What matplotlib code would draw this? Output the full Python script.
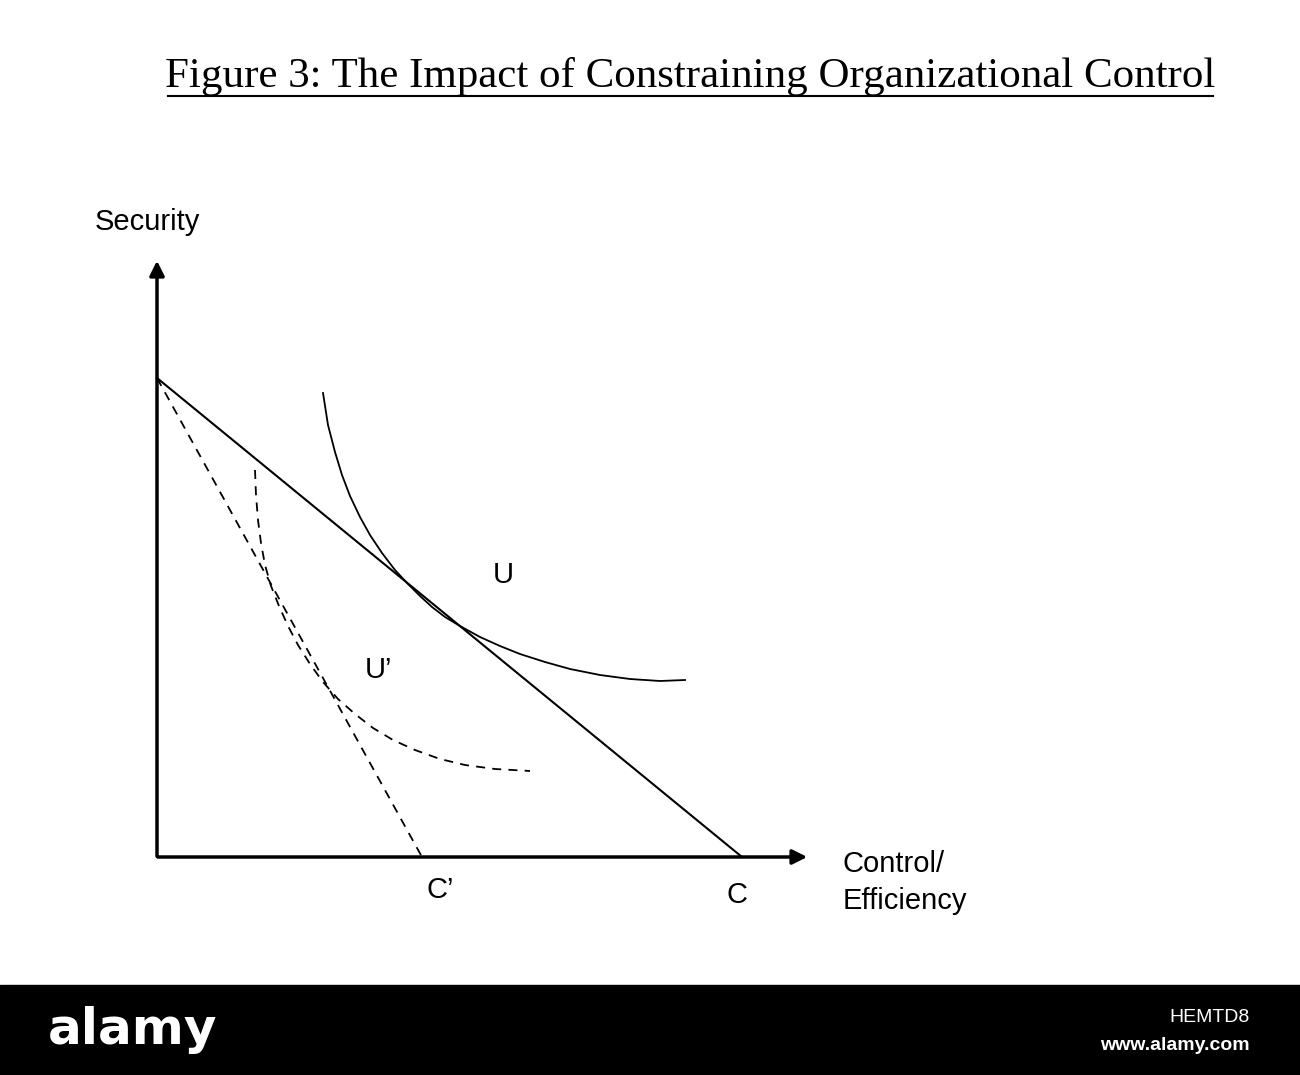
import matplotlib
matplotlib.use("Agg")
import matplotlib.pyplot as plt

# diagram coordinates in image pixels (y grows downward)
budget_x = [157, 742]
budget_y = [378, 857]
constrained_x = [157, 422]
constrained_y = [378, 857]
u_x = [323, 328, 335, 342, 350, 360, 370, 382, 395, 408, 420, 432, 445, 460,
       480, 500, 520, 545, 570, 600, 630, 660, 685]
u_y = [393, 425, 452, 475, 496, 517, 535, 553, 570, 584, 596, 607, 617, 626,
       637, 646, 654, 662, 669, 675, 679, 681, 680]
u2_x = [255, 256, 258, 261, 265, 271, 279, 288, 298, 310, 323, 338, 355, 373,
        393, 415, 440, 465, 495, 530]
u2_y = [470, 495, 520, 543, 565, 586, 606, 626, 645, 664, 682, 699, 714, 728,
        740, 750, 759, 765, 769, 771]

fig = plt.figure(figsize=(13, 10.75), dpi=100)
ax = fig.add_axes([0, 0, 1, 1])
ax.set_xlim(0, 1300)
ax.set_ylim(1075, 0)
ax.axis("off")

# axes with arrows
ax.annotate("", xy=(810, 857), xytext=(155, 857),
            arrowprops=dict(arrowstyle="-|>", lw=2.5, color="black", mutation_scale=22))
ax.annotate("", xy=(157, 258), xytext=(157, 859),
            arrowprops=dict(arrowstyle="-|>", lw=2.5, color="black", mutation_scale=22))

ax.plot(budget_x, budget_y, color="black", lw=1.5)
ax.plot(constrained_x, constrained_y, color="black", lw=1.3, ls=(0, (5, 4)))
ax.plot(u_x, u_y, color="black", lw=1.3)
ax.plot(u2_x, u2_y, color="black", lw=1.3, ls=(0, (5, 4)))

sans = "Liberation Sans"
fs = 21
ax.text(95, 222, "Security", fontsize=fs, family=sans, va="center")
ax.text(843, 864, "Control/", fontsize=fs, family=sans, va="center")
ax.text(843, 901, "Efficiency", fontsize=fs, family=sans, va="center")
ax.text(440, 890, "C’", fontsize=fs, family=sans, ha="center", va="center")
ax.text(737, 895, "C", fontsize=fs, family=sans, ha="center", va="center")
ax.text(503, 575, "U", fontsize=fs, family=sans, ha="center", va="center")
ax.text(378, 670, "U’", fontsize=fs, family=sans, ha="center", va="center")

ax.text(690, 76, "Figure 3: The Impact of Constraining Organizational Control",
        fontsize=31, family="Liberation Serif", ha="center", va="center")
ax.plot([168, 1213], [96, 96], color="black", lw=1.5)

# watermark bar
ax.fill_between([0, 1300], 985, 1075, color="black")
ax.text(48, 1030, "alamy", color="white", fontsize=36, family="DejaVu Sans",
        va="center", weight="bold")
ax.text(1250, 1017, "HEMTD8", color="white", fontsize=14, family=sans,
        ha="right", va="center")
ax.text(1250, 1045, "www.alamy.com", color="white", fontsize=14, family=sans,
        ha="right", va="center", weight="bold")

fig.savefig("out.png", dpi=100)
